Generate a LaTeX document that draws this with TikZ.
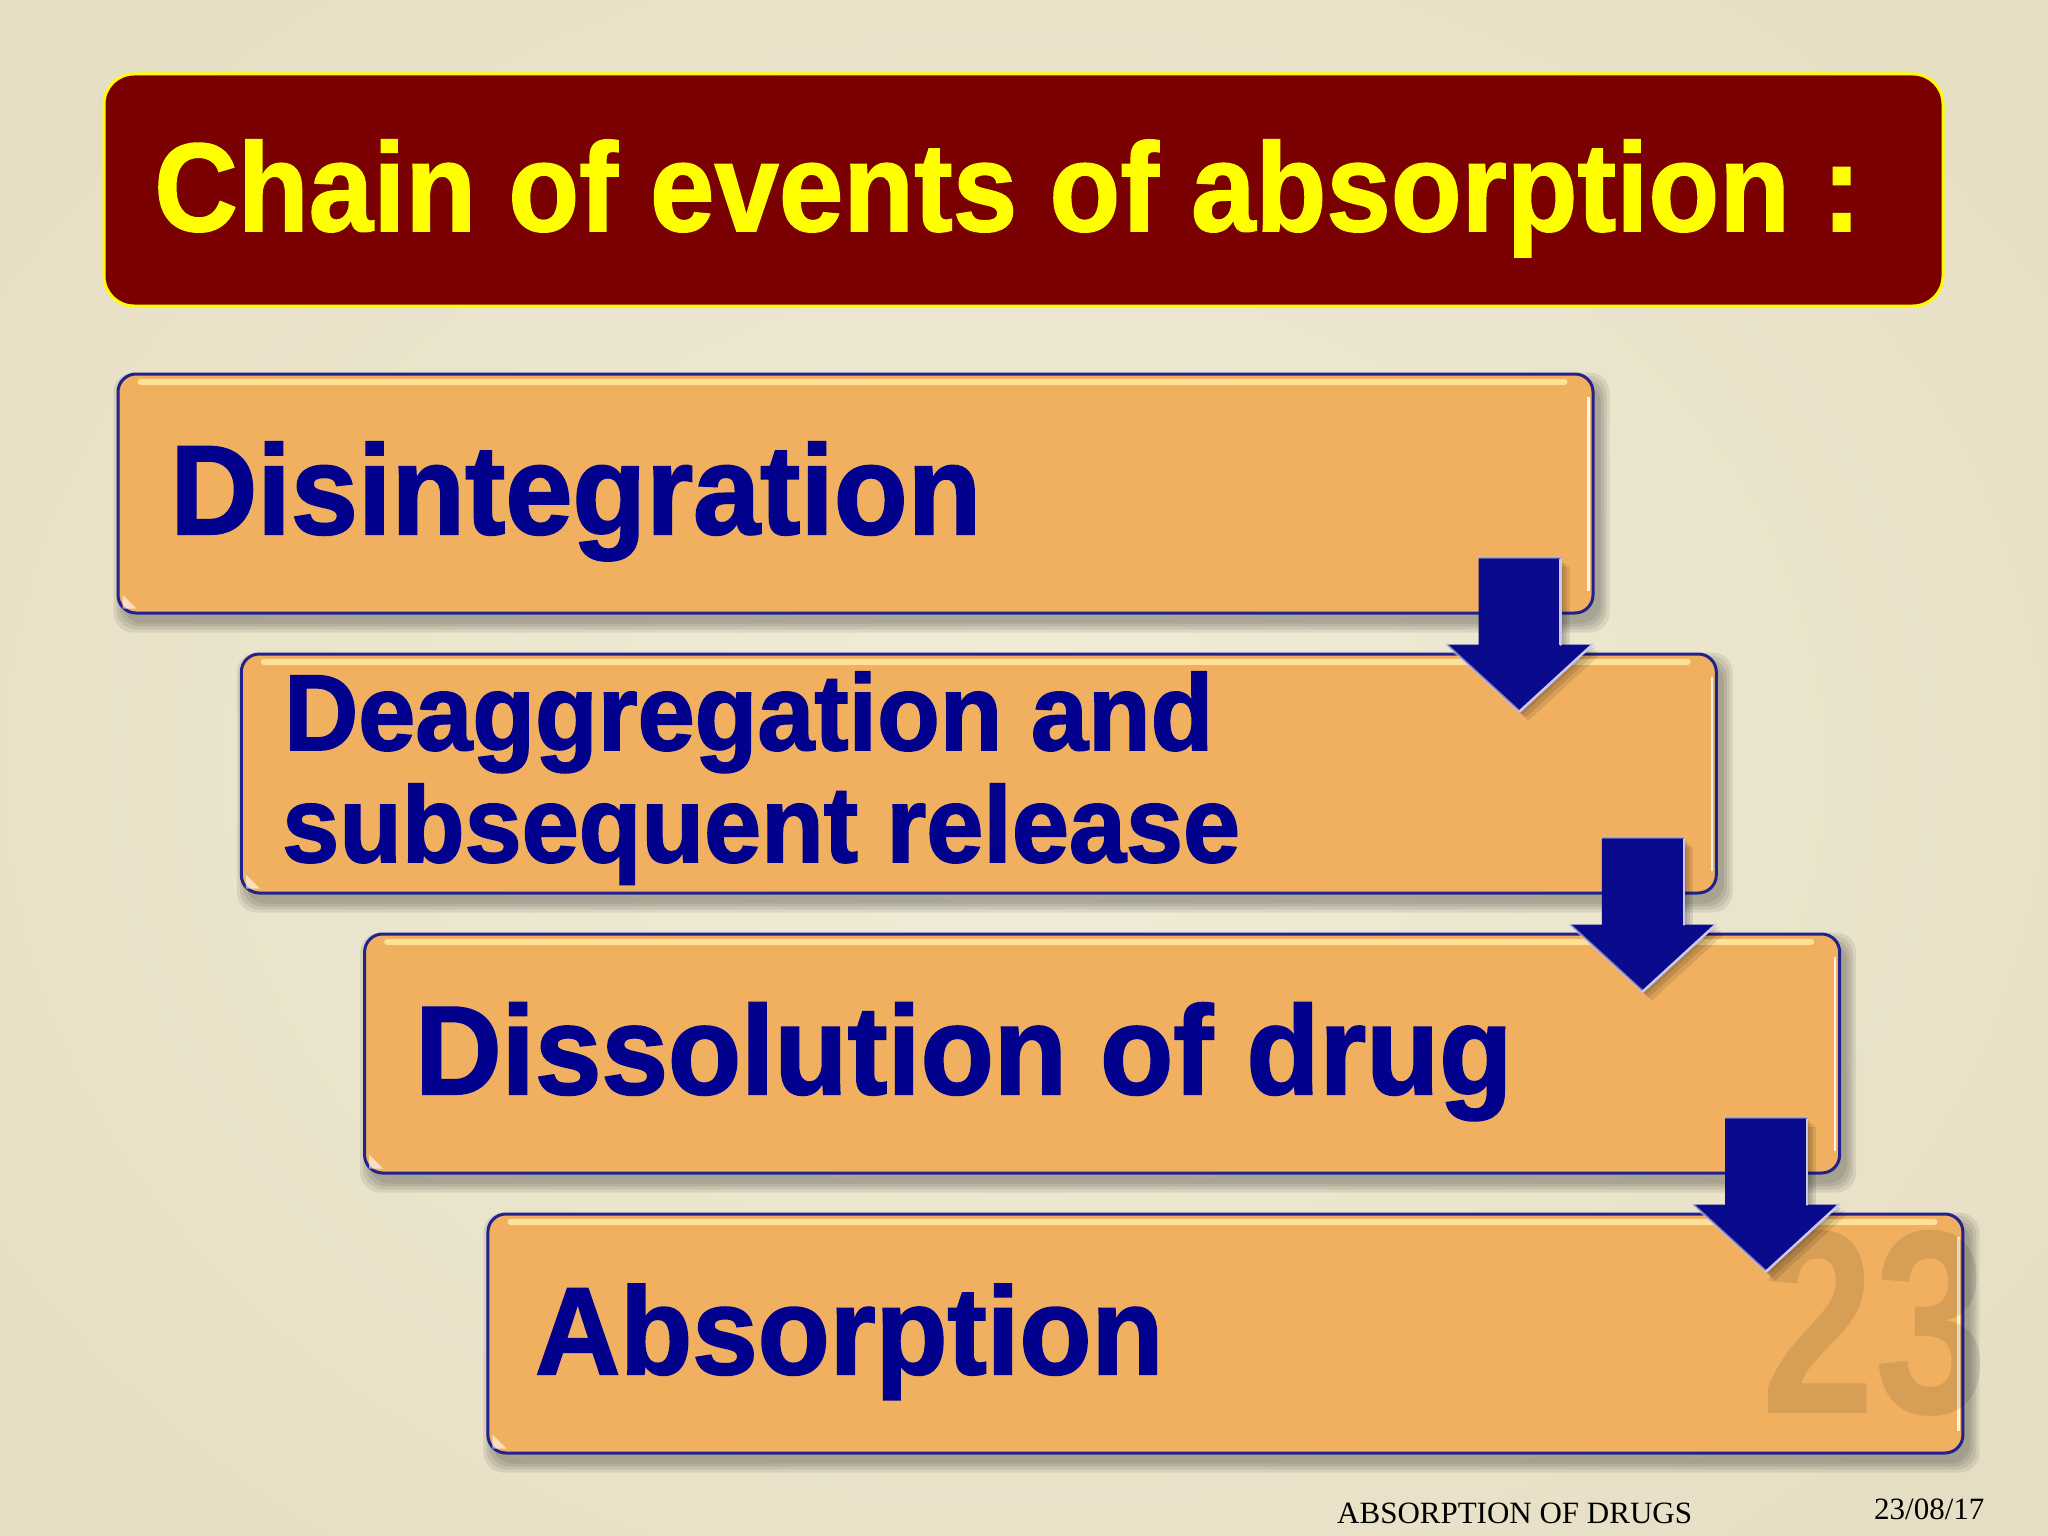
\documentclass[tikz,border=0pt]{standalone}
\usepackage{fontspec}
\usepackage{graphicx}
\setmainfont{Liberation Serif}
\newfontfamily\boxfont[FakeStretch=0.95,FakeBold=1.6]{Liberation Sans}
\newfontfamily\titlefont[FakeStretch=0.92,FakeBold=1.2]{Liberation Sans}
\newfontfamily\numfont{Liberation Sans}
\usetikzlibrary{calc}
\definecolor{bgmid}{HTML}{F1ECD8}
\definecolor{bgedge}{HTML}{E6DEC3}
\definecolor{maroon}{HTML}{7A0000}
\definecolor{titleyellow}{HTML}{FFFF00}
\definecolor{boxfill}{HTML}{F0B05F}
\definecolor{boxline}{HTML}{22228F}
\definecolor{navytext}{HTML}{00008C}
\definecolor{arrowblue}{HTML}{0A0A8C}
\definecolor{arrowlight}{HTML}{C9C9F2}
\definecolor{glow}{HTML}{FFEEA6}
\pgfdeclarelayer{bglayer}
\pgfdeclarelayer{shadowlayer}
\pgfsetlayers{bglayer,shadowlayer,main}
\begin{document}
\begin{tikzpicture}[x=1pt,y=-1pt,
  titlebox/.style={draw=titleyellow, line width=3pt, fill=maroon, rounded corners=30pt,
    minimum width=1839pt, minimum height=232pt, inner sep=0pt},
  stepbox/.style={draw=boxline, line width=3pt, fill=boxfill, rounded corners=18pt,
    minimum width=1475pt, minimum height=239pt, inner sep=0pt},
  boxtext/.style={anchor=base west, inner sep=0pt, text=navytext,
    font=\boxfont\bfseries\fontsize{#1pt}{#1pt}\selectfont},
  foottext/.style={anchor=base west, inner sep=0pt, text=black,
    font=\fontsize{31pt}{31pt}\selectfont},
  arrowshape/.style={fill=arrowblue},
  arrowedge/.style={draw=arrowlight, line width=2.5pt, line cap=round}
]
\useasboundingbox (0,0) rectangle (2048,1536);

% parchment background
\begin{pgfonlayer}{bglayer}
  \shade[inner color=bgmid, outer color=bgedge] (-300,-300) rectangle (2348,1836);
\end{pgfonlayer}

% title
\node[titlebox] (title) at (1023.5,190) {};
\node[anchor=base west, inner sep=0pt, text=titleyellow,
  font=\titlefont\bfseries\fontsize{126pt}{126pt}\selectfont] (titletext) at (154,231)
  {Chain of events of absorption :};

% step boxes
\node[stepbox] (b1) at (855.5,493.5) {};
\node[stepbox] (b2) at (978.8,773.5) {};
\node[stepbox] (b3) at (1102.1,1053.5) {};
\node[stepbox] (b4) at (1225.4,1333.5) {};

\foreach \b in {b1,b2,b3,b4} {
  \draw[glow, line width=6pt, line cap=round, opacity=0.8]
    ([shift={(24,9)}]\b.north west) -- ([shift={(-30,9)}]\b.north east);
  \draw[white, line width=2.5pt, opacity=0.85]
    ([shift={(-6,24)}]\b.north east) -- ([shift={(-6,-24)}]\b.south east);
  \fill[white, opacity=0.6] ([shift={(6,-20)}]\b.south west) -- ([shift={(6,-6)}]\b.south west)
    -- ([shift={(20,-6)}]\b.south west) -- cycle;
}

\begin{pgfonlayer}{shadowlayer}
  \foreach \b in {b1,b2,b3,b4} {
    \foreach \k in {0,3,6,9} {
      \fill[black, opacity=0.08, rounded corners=20pt]
        ([shift={(6-\k,9-\k)}]\b.north west) rectangle ([shift={(6+\k,9+\k)}]\b.south east);
    }
  }
\end{pgfonlayer}

% texts
\node[boxtext=127] (t1) at (170,534) {Disintegration};
\node[boxtext=108] (t2a) at (284,750) {Deaggregation and};
\node[boxtext=108] (t2b) at (282,862) {subsequent release};
\node[boxtext=126] (t3) at (415,1094) {Dissolution of drug};
\node[boxtext=124] (t4) at (535,1374) {Absorption};

% page number watermark
\node[anchor=south west, inner sep=0pt, text=black, text opacity=0.1] (pagenum) at (1761,1417)
  {\resizebox{227pt}{183pt}{\numfont\bfseries 23}};

% block arrows between boxes
\foreach \b in {b1,b2,b3} {
  \begin{scope}[shift={(\b.south east)}]
    \foreach \k in {3,6,9} {
      \fill[black, opacity=0.1, shift={(\k,\k)}]
        (-116,-57) -- (-34,-57) -- (-34,30) -- (-2,30) -- (-75,97) -- (-148,30) -- (-116,30) -- cycle;
    }
    \fill[arrowshape]
      (-116,-57) -- (-34,-57) -- (-34,30) -- (-2,30) -- (-75,97) -- (-148,30) -- (-116,30) -- cycle;
    \draw[arrowedge] (-34,-55) -- (-34,30);
    \draw[arrowedge] (-2,30) -- (-75,97);
    \draw[arrowedge, opacity=0.6] (-148,30) -- (-75,97);
    \draw[arrowedge, opacity=0.4] (-116,-57) -- (-34,-57);
  \end{scope}
}

% footer
\node[foottext] (footer) at (1337,1523) {ABSORPTION OF DRUGS};
\node[foottext] (date) at (1874,1519) {23/08/17};
\end{tikzpicture}
\end{document}
